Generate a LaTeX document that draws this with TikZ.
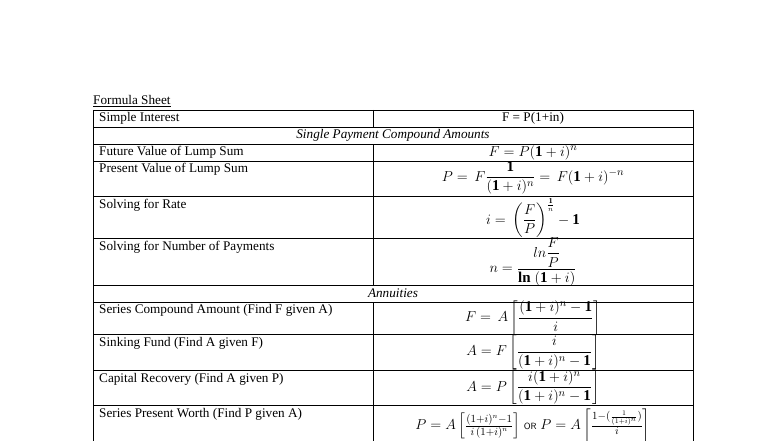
\documentclass[tikz,border=0pt]{standalone}
\usepackage{fontspec}
\setmainfont{Liberation Serif}
\usepackage{amsmath}
\begin{document}
\begin{tikzpicture}[x=1pt,y=-1pt,
  lbl/.style={anchor=north west,font=\fontsize{13.2}{15}\selectfont,inner sep=0pt},
  frm/.style={anchor=center,font=\fontsize{15}{17}\selectfont,inner sep=0pt},
  hdr/.style={anchor=center,font=\fontsize{13.2}{15}\selectfont\itshape,inner sep=0pt}]
\useasboundingbox (0,0) rectangle (784,441);
\clip (0,0) rectangle (784,441);
\node[lbl,anchor=south west] (title) at (93,107) {\underline{Formula Sheet}};
% lines
\foreach \y in {110,127,144,161,196,238,285,302,334,370,405} \draw[line width=0.8pt] (93,\y) -- (693,\y);
\draw[line width=0.8pt] (93,110) -- (93,450);
\draw[line width=0.8pt] (693,110) -- (693,450);
\foreach \a/\b in {110/127,144/285,302/450} \draw[line width=0.8pt] (373,\a) -- (373,\b);
% labels
\node[lbl] (l1) at (99,112) {Simple Interest};
\node[lbl,anchor=center] (f1) at (533,118.5) {F = P(1+in)};
\node[hdr] (h1) at (393,135.5) {Single Payment Compound Amounts};
\node[lbl] (l2) at (99,146) {Future Value of Lump Sum};
\node[frm] (f2) at (533,152.5) {$F=P(\mathbf{1}+i)^n$};
\node[lbl] (l3) at (99,163) {Present Value of Lump Sum};
\node[frm] (f3) at (533,178) {$P=\,F\dfrac{\mathbf{1}}{(\mathbf{1}+i)^n}=\,F(\mathbf{1}+i)^{-n}$};
\node[lbl] (l4) at (99,199) {Solving for Rate};
\node[frm] (f4) at (533,218) {$i=\,\left(\dfrac{F}{P}\right)^{\frac{\mathbf 1}{n}}-\mathbf{1}$};
\node[lbl] (l5) at (99,241) {Solving for Number of Payments};
\node[frm] (f5) at (533,262) {$n=\dfrac{ln\dfrac{F}{P}}{\mathbf{ln}\;(\mathbf{1}+i)}$};
\node[hdr] (h2) at (393,293.5) {Annuities};
\node[lbl] (l6) at (99,304) {Series Compound Amount (Find F given A)};
\node[frm] (f6) at (533,318) {$F=\,A\left[\dfrac{(\mathbf{1}+i)^n-\mathbf{1}}{i}\right]$};
\node[lbl] (l7) at (99,337) {Sinking Fund (Find A given F)};
\node[frm] (f7) at (533,352) {$A=F\left[\dfrac{i}{(\mathbf{1}+i)^n-\mathbf{1}}\right]$};
\node[lbl] (l8) at (99,373) {Capital Recovery (Find A given P)};
\node[frm] (f8) at (533,387.5) {$A=P\left[\dfrac{i(\mathbf{1}+i)^n}{(\mathbf{1}+i)^n-\mathbf{1}}\right]$};
\node[lbl] (l9) at (99,408) {Series Present Worth (Find P given A)};
\node[frm] (f9) at (533,426) {$P=A\left[\frac{(1+i)^n-1}{i\,(1+i)^n}\right]$ {\sffamily\small OR} $P=A\left[\frac{1-(\frac{1}{(1+i)^n})}{i}\right]$};
\end{tikzpicture}
\end{document}
